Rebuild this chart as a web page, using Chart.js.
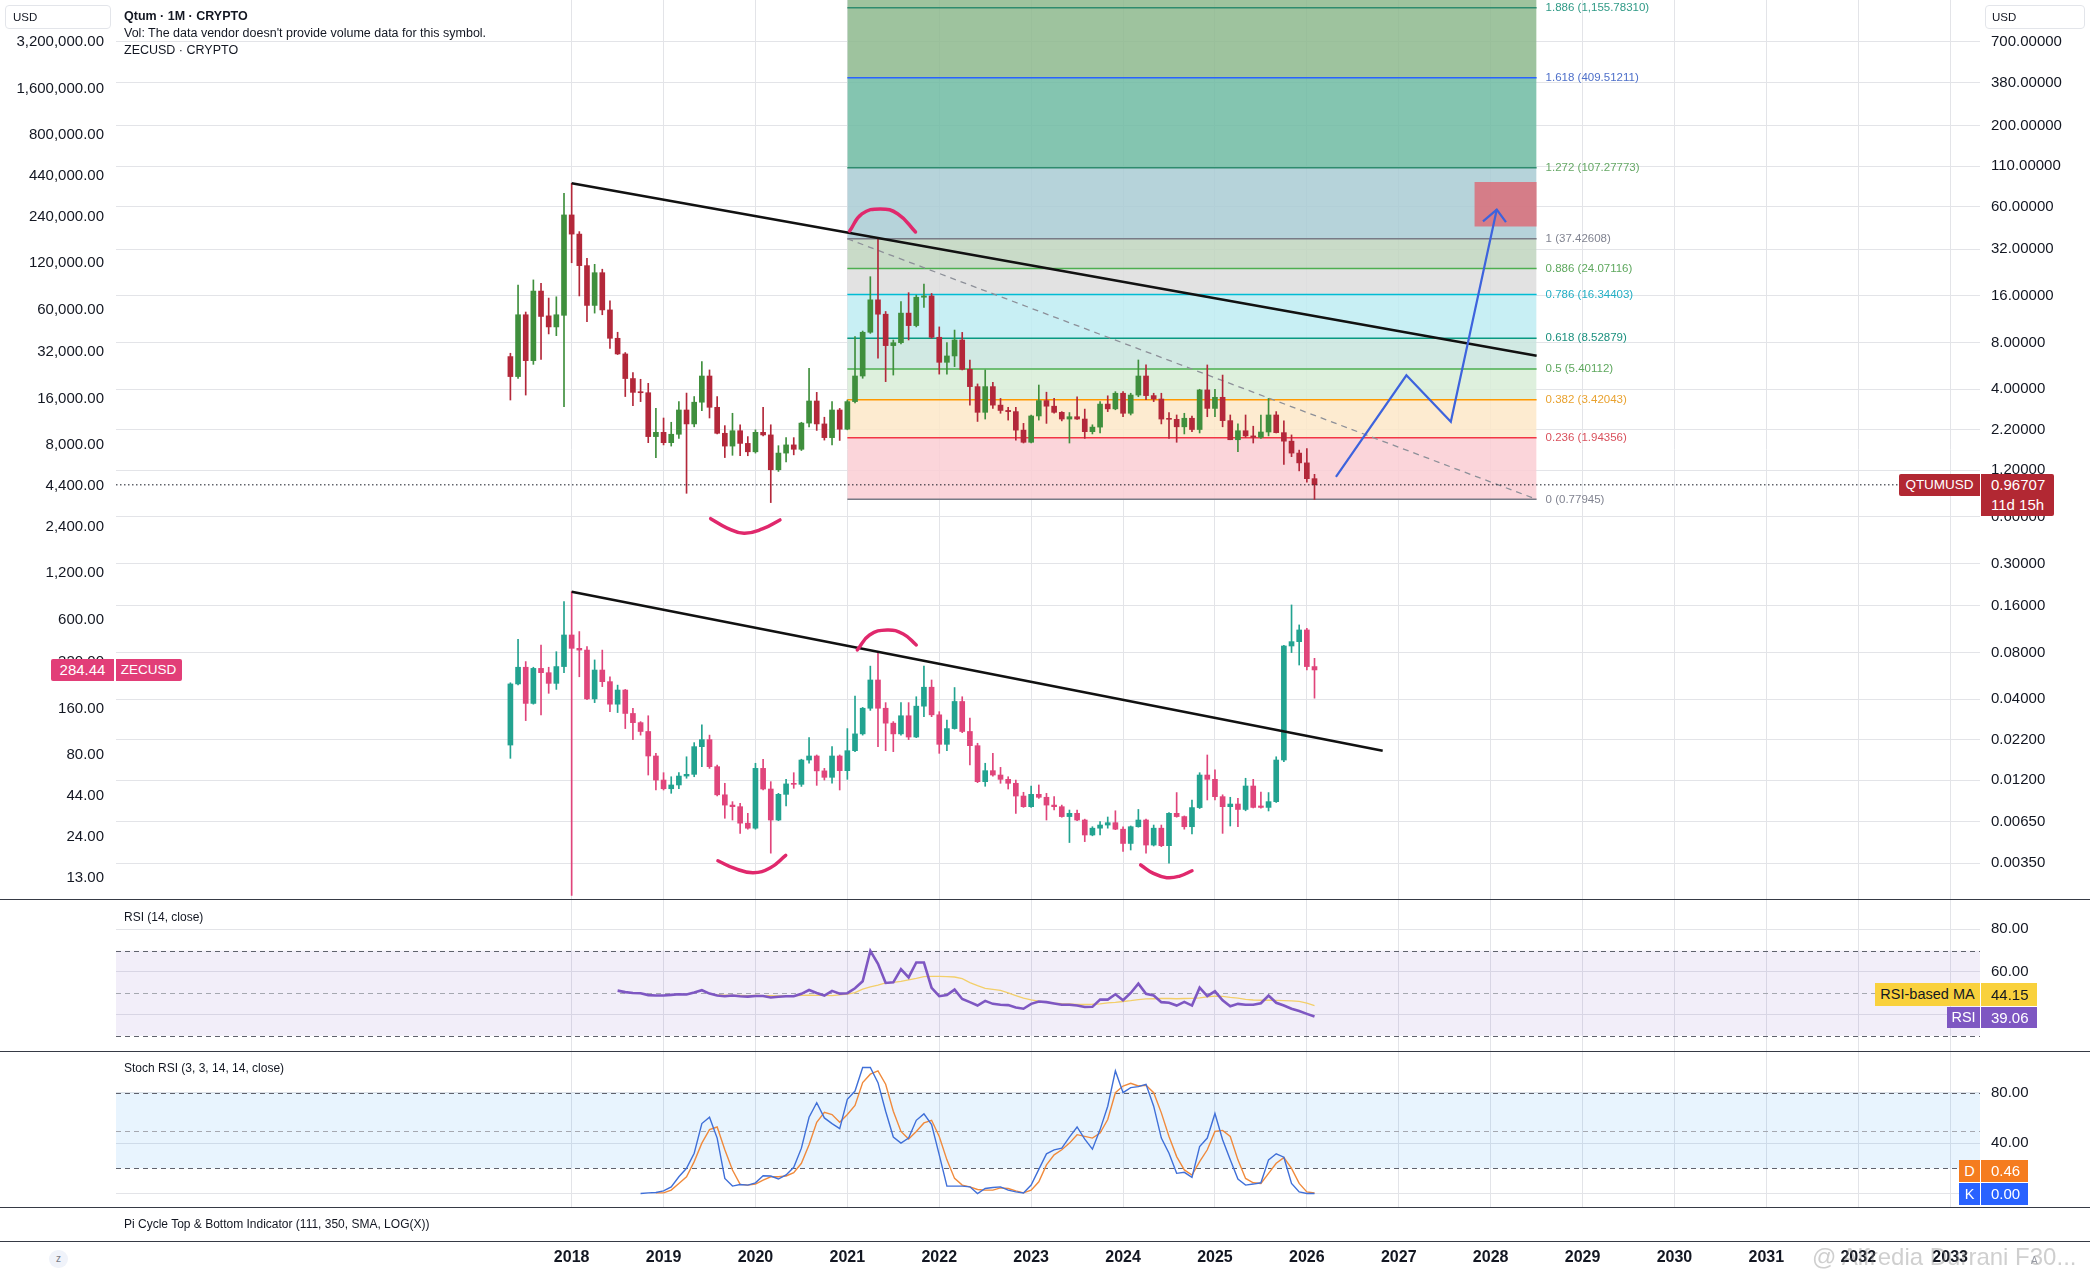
<!DOCTYPE html>
<html>
<head>
<meta charset="utf-8">
<script src="https://cdn.jsdelivr.net/npm/chart.js@4.4.1/dist/chart.umd.min.js"></script>
<style>
  html, body { margin: 0; padding: 0; background: #fff; }
  body { width: 2090px; height: 1277px; position: relative; overflow: hidden; font-family: "Liberation Sans", Arial, sans-serif; color: #131722; }
  canvas { position: absolute; left: 0; }
  .sep { position: absolute; left: 0; width: 2090px; height: 1.5px; background: #363a45; }
  .t { position: absolute; white-space: nowrap; }
  .box { position: absolute; white-space: nowrap; color: #fff; box-sizing: border-box; }
</style>
</head>
<body>
<canvas id="mainChart" width="2090" height="899" style="top:0"></canvas>
<canvas id="rsiChart" width="2090" height="152" style="top:899px"></canvas>
<canvas id="stochChart" width="2090" height="156" style="top:1051px"></canvas>
<canvas id="timeChart" width="2090" height="70" style="top:1207px"></canvas>

<div class="sep" style="top:898.5px"></div>
<div class="sep" style="top:1050.5px"></div>
<div class="sep" style="top:1206.5px"></div>
<div class="sep" style="top:1240.5px"></div>

<!-- legends / titles -->
<div class="t" style="left:124px;top:8px;font-size:12.5px;font-weight:bold;line-height:17px">Qtum · 1M · CRYPTO</div>
<div class="t" style="left:124px;top:25px;font-size:12.5px;line-height:17px">Vol: The data vendor doesn't provide volume data for this symbol.</div>
<div class="t" style="left:124px;top:42px;font-size:12.5px;line-height:17px">ZECUSD · CRYPTO</div>
<div class="t" style="left:124px;top:909px;font-size:12px;line-height:16px">RSI (14, close)</div>
<div class="t" style="left:124px;top:1060px;font-size:12px;line-height:16px">Stoch RSI (3, 3, 14, 14, close)</div>
<div class="t" style="left:124px;top:1216px;font-size:12px;line-height:16px">Pi Cycle Top &amp; Bottom Indicator (111, 350, SMA, LOG(X))</div>

<!-- currency boxes -->
<div class="t" style="left:5px;top:5px;width:106px;height:24px;border:1px solid #e3e5ea;border-radius:4px;box-sizing:border-box;font-size:11.5px;line-height:22px;padding-left:7px">USD</div>
<div class="t" style="left:1985px;top:5px;width:100px;height:24px;border:1px solid #e3e5ea;border-radius:4px;box-sizing:border-box;font-size:11.5px;line-height:22px;padding-left:6px">USD</div>

<!-- price labels -->
<div class="box" style="left:1899px;top:474px;width:81px;height:22px;background:#b22833;font-size:13.5px;line-height:22px;text-align:center;border-radius:2px 0 0 2px">QTUMUSD</div>
<div class="box" style="left:1981px;top:474px;width:73px;height:42px;background:#b22833;font-size:15px;line-height:20px;padding:1px 0 0 10px;border-radius:0 2px 2px 0">0.96707<br>11d 15h</div>
<div class="box" style="left:51px;top:659px;width:63px;height:22px;background:#e23e78;font-size:15px;line-height:22px;text-align:center;border-radius:2px 0 0 2px">284.44</div>
<div class="box" style="left:115.5px;top:659px;width:66px;height:22px;background:#e23e78;font-size:13.5px;line-height:22px;text-align:center;border-radius:0 2px 2px 0">ZECUSD</div>

<div class="box" style="left:1875px;top:983px;width:105px;height:23px;background:#f9d13c;color:#131722;font-size:14.5px;line-height:23px;text-align:center">RSI-based MA</div>
<div class="box" style="left:1981px;top:983px;width:56px;height:23px;background:#f9d13c;color:#131722;font-size:15px;line-height:23px;padding-left:10px">44.15</div>
<div class="box" style="left:1947px;top:1007px;width:33px;height:21px;background:#7e57c2;font-size:14.5px;line-height:21px;text-align:center">RSI</div>
<div class="box" style="left:1981px;top:1007px;width:56px;height:21px;background:#7e57c2;font-size:15px;line-height:21px;padding-left:10px">39.06</div>

<div class="box" style="left:1959px;top:1160px;width:21px;height:22px;background:#f57c1f;font-size:14.5px;line-height:22px;text-align:center">D</div>
<div class="box" style="left:1981px;top:1160px;width:47px;height:22px;background:#f57c1f;font-size:15px;line-height:22px;padding-left:10px">0.46</div>
<div class="box" style="left:1959px;top:1183px;width:21px;height:22px;background:#2962ff;font-size:14.5px;line-height:22px;text-align:center">K</div>
<div class="box" style="left:1981px;top:1183px;width:47px;height:22px;background:#2962ff;font-size:15px;line-height:22px;padding-left:10px">0.00</div>

<div class="t" style="left:49px;top:1250px;width:19px;height:18px;background:#f0f3fa;border-radius:9px;color:#787b86;font-size:10px;line-height:18px;text-align:center">z</div>
<div class="t" style="left:1812px;top:1242px;color:rgba(130,130,130,0.38);font-size:24px;line-height:30px">@ Alfredia Durrani F30...</div>
<div class="t" style="left:2031px;top:1254px;color:#9598a1;font-size:10px;line-height:14px">A</div>

<script>
// months shown (monthly candles)
const months = [
  '2017-05','2017-06','2017-07','2017-08','2017-09','2017-10','2017-11','2017-12',
  '2018-01','2018-02','2018-03','2018-04','2018-05','2018-06','2018-07','2018-08','2018-09','2018-10','2018-11','2018-12',
  '2019-01','2019-02','2019-03','2019-04','2019-05','2019-06','2019-07','2019-08','2019-09','2019-10','2019-11','2019-12',
  '2020-01','2020-02','2020-03','2020-04','2020-05','2020-06','2020-07','2020-08','2020-09','2020-10','2020-11','2020-12',
  '2021-01','2021-02','2021-03','2021-04','2021-05','2021-06','2021-07','2021-08','2021-09','2021-10','2021-11','2021-12',
  '2022-01','2022-02','2022-03','2022-04','2022-05','2022-06','2022-07','2022-08','2022-09','2022-10','2022-11','2022-12',
  '2023-01','2023-02','2023-03','2023-04','2023-05','2023-06','2023-07','2023-08','2023-09','2023-10','2023-11','2023-12',
  '2024-01','2024-02','2024-03','2024-04','2024-05','2024-06','2024-07','2024-08','2024-09','2024-10','2024-11','2024-12',
  '2025-01','2025-02','2025-03','2025-04','2025-05','2025-06','2025-07','2025-08','2025-09','2025-10','2025-11','2025-12',
  '2026-01','2026-02'
];

// QTUMUSD (right scale)
const qtumOpen = [
  6.50, 4.83, 12.1, 6.12, 17.2, 11.9, 10.1, 12.0,
  53.3, 40.1, 25.1, 13.9, 22.6, 13.0, 8.53, 6.76, 4.69, 3.82, 3.80, 1.98,
  2.11, 1.81, 2.05, 2.94, 2.39, 3.30, 4.87, 3.06, 2.08, 1.72, 2.16, 1.79,
  1.58, 2.11, 2.03, 1.21, 1.55, 1.75, 1.64, 2.42, 3.36, 2.39, 1.95, 2.94,
  2.21, 3.33, 4.87, 9.33, 15.1, 12.2, 7.65, 7.99, 12.4, 10.3, 15.7, 16.0,
  8.66, 5.97, 6.56, 8.32, 5.38, 4.16, 2.84, 4.16, 3.16, 2.92, 2.87, 2.18,
  1.82, 2.69, 3.38, 3.11, 2.84, 2.57, 2.66, 2.57, 2.13, 2.28, 3.21, 2.99,
  3.77, 2.80, 3.67, 4.87, 3.64, 3.46, 2.57, 2.56, 2.29, 2.60, 2.20, 3.96,
  3.01, 3.55, 2.51, 1.89, 2.16, 2.00, 1.96, 2.12, 2.73, 2.10, 1.85, 1.55,
  1.34, 1.06
];
const qtumHigh = [
  6.83, 18.8, 12.6, 20.3, 19.3, 15.5, 15.8, 73.5,
  85.3, 41.6, 28.0, 25.6, 23.8, 14.9, 9.33, 6.90, 5.12, 4.64, 4.37, 3.01,
  2.61, 2.45, 3.33, 3.78, 3.59, 6.03, 5.33, 3.59, 2.33, 2.80, 2.36, 1.98,
  2.19, 3.06, 2.36, 1.73, 1.95, 1.95, 2.45, 5.46, 3.82, 2.64, 3.33, 3.01,
  3.41, 8.74, 9.50, 21.3, 37.7, 12.7, 8.32, 14.7, 16.8, 16.2, 19.1, 16.6,
  10.1, 8.00, 9.64, 9.31, 6.18, 4.33, 5.33, 4.44, 3.49, 3.06, 3.06, 2.41,
  2.73, 4.26, 3.83, 3.49, 2.87, 2.83, 3.58, 2.98, 2.36, 3.33, 3.63, 3.86,
  3.86, 3.77, 6.18, 5.74, 3.77, 3.77, 2.83, 2.73, 2.80, 2.69, 4.00, 5.74,
  4.00, 4.94, 2.73, 2.39, 2.73, 2.31, 2.73, 3.49, 2.87, 2.50, 2.03, 1.62,
  1.66, 1.13
];
const qtumLow = [
  3.41, 4.70, 3.67, 5.79, 6.24, 9.10, 8.87, 3.09,
  26.2, 16.0, 10.9, 12.4, 12.1, 7.35, 6.70, 3.59, 3.14, 3.33, 1.81, 1.45,
  1.75, 1.72, 1.93, 0.853, 2.29, 2.91, 2.61, 2.06, 1.45, 1.50, 1.49, 1.49,
  1.55, 2.00, 0.743, 1.18, 1.36, 1.51, 1.61, 2.29, 2.17, 1.88, 1.75, 1.87,
  2.19, 3.26, 4.71, 9.18, 6.34, 4.48, 4.94, 7.84, 8.32, 10.1, 13.5, 8.53,
  5.01, 5.01, 5.60, 5.33, 3.16, 2.48, 2.57, 3.01, 2.80, 2.53, 1.88, 1.80,
  1.80, 2.53, 2.41, 2.80, 2.50, 1.80, 2.56, 1.93, 2.06, 2.09, 2.87, 2.95,
  2.66, 2.73, 3.58, 3.43, 3.33, 2.39, 1.93, 1.82, 2.06, 2.13, 2.09, 2.66,
  2.66, 2.29, 1.89, 1.58, 1.96, 1.80, 1.93, 2.00, 2.09, 1.31, 1.47, 1.19,
  1.005, 0.779
];
const qtumClose = [
  4.83, 12.1, 6.12, 17.2, 11.8, 10.1, 12.1, 53.3,
  40.1, 25.1, 13.9, 22.6, 13.0, 8.53, 6.76, 4.69, 3.82, 3.80, 1.98, 2.11,
  1.81, 2.05, 2.94, 2.39, 3.30, 4.87, 3.06, 2.08, 1.72, 2.16, 1.79, 1.58,
  2.11, 2.03, 1.21, 1.55, 1.75, 1.64, 2.42, 3.36, 2.39, 1.95, 2.94, 2.21,
  3.33, 4.87, 9.33, 15.1, 12.2, 7.65, 7.99, 12.4, 10.3, 15.7, 16.0, 8.66,
  5.97, 6.56, 8.32, 5.38, 4.16, 2.84, 4.16, 3.16, 2.92, 2.87, 2.18, 1.82,
  2.69, 3.38, 3.11, 2.84, 2.57, 2.66, 2.57, 2.13, 2.28, 3.21, 2.99, 3.77,
  2.80, 3.67, 4.87, 3.64, 3.46, 2.57, 2.56, 2.29, 2.60, 2.20, 3.96, 3.01,
  3.55, 2.51, 1.89, 2.16, 2.00, 1.96, 2.12, 2.73, 2.10, 1.85, 1.55, 1.34,
  1.06, 0.96707
];

// ZECUSD (left scale)
const zecOpen = [
  93.2, 231, 296, 173, 291, 273, 233, 299,
  478, 392, 382, 185, 284, 239, 171, 211, 149, 130, 114, 79.2,
  55.4, 48.7, 51.5, 58.8, 60.3, 91.0, 101, 67.6, 44.5, 38.2, 37.3, 29.2,
  27.1, 65.9, 48.5, 30.6, 44.8, 52.3, 52.0, 74.6, 79.2, 63.5, 57.7, 79.2,
  63.7, 85.7, 110, 161, 245, 161, 129, 110, 144, 105, 166, 220,
  146, 94.2, 119, 178, 114, 92.3, 54.1, 63.7, 59.7, 56.0, 52.8, 43.7,
  37.3, 44.8, 42.9, 38.2, 37.3, 32.2, 33.8, 30.6, 24.5, 27.1, 28.4, 29.4,
  26.7, 21.6, 27.7, 30.6, 21.1, 27.1, 20.9, 33.8, 32.2, 27.7, 36.8, 59.7,
  56.0, 43.3, 37.3, 38.8, 35.8, 50.7, 37.7, 36.9, 40.2, 74.6, 406, 433,
  515, 299
];
const zecHigh = [
  235, 448, 322, 296, 412, 296, 373, 784,
  910, 503, 402, 330, 382, 257, 227, 213, 161, 132, 144, 82.4,
  61.8, 58.2, 61.8, 78.3, 96.6, 126, 108, 69.3, 52.8, 40.2, 39.2, 33.8,
  71.1, 75.4, 54.1, 45.5, 56.0, 61.8, 75.5, 104, 80.4, 65.9, 91.0, 80.4,
  119, 193, 163, 301, 373, 175, 132, 175, 175, 191, 301, 245,
  153, 135, 219, 191, 139, 95.7, 71.1, 82.4, 66.9, 58.2, 55.4, 46.2,
  50.7, 51.5, 45.5, 43.3, 38.2, 35.5, 35.5, 31.0, 27.7, 29.9, 32.0, 35.1,
  27.7, 28.0, 35.8, 31.0, 28.4, 28.4, 34.2, 46.0, 32.5, 41.2, 61.8, 80.4,
  64.4, 44.5, 42.9, 42.2, 56.9, 56.0, 46.4, 46.0, 78.3, 410, 747, 555,
  528, 338
];
const zecLow = [
  76.5, 228, 134, 171, 146, 201, 213, 273,
  10.0, 257, 183, 175, 222, 153, 151, 119, 101, 108, 59.7, 47.8,
  47.8, 45.5, 48.7, 56.9, 58.2, 67.6, 65.9, 43.7, 31.4, 30.6, 25.1, 26.7,
  26.7, 47.8, 18.7, 30.3, 37.7, 49.0, 50.4, 71.1, 51.2, 55.4, 52.8, 47.8,
  56.0, 84.5, 108, 156, 91.0, 85.7, 84.5, 108, 101, 104, 142, 142,
  82.4, 85.7, 118, 112, 69.3, 53.3, 50.5, 58.8, 52.8, 48.5, 33.8, 36.9,
  36.9, 42.2, 30.6, 35.5, 31.9, 21.9, 30.3, 22.2, 24.2, 24.5, 27.1, 26.5,
  19.2, 19.6, 27.5, 18.7, 20.8, 20.6, 16.1, 31.9, 26.7, 24.9, 36.3, 41.2,
  41.2, 25.1, 28.0, 27.7, 35.1, 36.6, 36.5, 35.0, 39.7, 72.8, 368, 306,
  284, 187
];
const zecClose = [
  231, 296, 173, 291, 273, 233, 299, 478,
  392, 382, 185, 284, 239, 171, 211, 149, 130, 114, 79.2, 55.4,
  48.7, 51.5, 58.8, 60.3, 91.0, 101, 67.6, 44.5, 38.2, 37.3, 29.2, 27.1,
  65.9, 48.5, 30.6, 44.8, 52.3, 52.0, 74.6, 79.2, 63.5, 57.7, 79.2, 63.7,
  85.7, 110, 161, 245, 161, 129, 110, 144, 105, 166, 220, 146,
  94.2, 119, 178, 114, 92.3, 54.1, 63.7, 59.7, 56.0, 52.8, 43.7, 37.3,
  44.8, 42.9, 38.2, 37.3, 32.2, 33.8, 30.6, 24.5, 27.1, 28.4, 29.4, 26.7,
  21.6, 27.7, 30.6, 21.1, 27.1, 20.9, 33.8, 32.2, 27.7, 36.8, 59.7, 56.0,
  43.3, 37.3, 38.8, 35.8, 50.7, 36.9, 36.9, 40.2, 74.6, 406, 433, 515,
  299, 284.44
];

// RSI (14) and its MA
const rsiStart = '2018-07';
const rsiValues = [
  51.2, 50.5, 50.1, 50.0, 49.1, 48.9, 48.9, 49.2, 49.5, 49.4,
  50.3, 51.4, 49.8, 48.9, 48.6, 48.9, 48.6, 48.4, 48.7, 48.7,
  48.0, 48.3, 48.6, 48.6, 49.7, 51.5, 50.1, 48.9, 51.1, 49.8,
  50.0, 52.3, 55.6, 69.9, 63.8, 54.8, 55.1, 61.3, 57.4, 64.4,
  64.4, 52.5, 48.6, 49.1, 51.7, 47.3, 45.8, 44.2, 46.4, 45.0,
  44.6, 44.4, 43.3, 42.7, 45.0, 46.1, 45.8, 45.2, 44.6, 44.6,
  44.2, 43.5, 43.6, 47.0, 47.0, 49.5, 46.7, 50.1, 54.5, 49.7,
  48.9, 45.8, 45.5, 44.2, 45.9, 44.2, 52.6, 48.6, 50.9, 46.7,
  43.9, 45.0, 44.6, 44.6, 45.3, 48.9, 45.5, 44.2, 42.7, 41.6,
  40.3, 39.06
];
const rsiMaStart = '2019-08';
const rsiMaValues = [
  49.2, 49.1, 49.0, 49.0, 48.9, 49.0, 48.9, 48.8, 48.7, 48.7,
  48.8, 49.0, 49.1, 49.0, 49.0, 48.9, 49.2, 49.6, 50.3, 51.9,
  53.0, 53.8, 54.8, 55.1, 55.6, 56.3, 57.0, 57.8, 57.9, 57.9,
  57.8, 57.6, 56.8, 55.0, 53.6, 52.3, 51.8, 51.3, 50.1, 48.9,
  47.7, 46.9, 46.3, 45.8, 45.3, 45.1, 45.0, 44.7, 44.7, 44.8,
  45.0, 45.5, 45.7, 46.1, 46.5, 47.0, 47.3, 47.4, 47.5, 47.5,
  47.4, 47.5, 47.6, 47.8, 48.3, 48.6, 48.5, 48.0, 47.7, 47.1,
  46.8, 46.7, 46.7, 46.6, 46.5, 46.4, 46.2, 45.3, 44.15
];

// Stoch RSI (3, 3, 14, 14)
const stochKStart = '2018-10';
const stochK = [
  0.0, 0.5, 0.8, 2.1, 5.3, 13.3, 20.0, 32.0, 55.5, 60.5,
  44.0, 12.0, 5.9, 7.2, 6.7, 8.5, 14.1, 13.9, 11.5, 14.7,
  20.8, 36.0, 60.5, 72.0, 60.0, 55.5, 51.5, 74.7, 81.3, 100,
  100, 88.0, 65.3, 44.8, 40.0, 44.0, 58.1, 63.2, 54.7, 30.7,
  5.9, 5.9, 5.9, 5.3, 0.0, 4.0, 4.8, 5.3, 2.7, 1.3,
  0.5, 6.7, 19.2, 31.5, 34.7, 36.0, 44.8, 52.8, 43.2, 35.2,
  50.7, 69.3, 97.3, 80.0, 84.0, 84.8, 86.7, 69.3, 44.0, 32.0,
  16.0, 16.8, 12.8, 37.3, 44.0, 63.5, 42.7, 26.7, 11.5, 6.7,
  7.5, 8.5, 26.7, 31.5, 28.8, 8.0, 1.3, 0.0, 0.0
];
const stochDStart = '2018-12';
const stochD = [
  0.5, 0.5, 2.7, 8.0, 13.3, 25.3, 40.0, 50.7, 52.8, 34.7,
  18.7, 7.2, 6.7, 7.5, 10.7, 13.3, 13.3, 13.9, 16.5, 24.0,
  38.7, 56.5, 64.5, 62.7, 56.5, 62.7, 69.9, 88.0, 94.7, 97.3,
  86.7, 65.3, 49.3, 43.2, 49.3, 56.0, 58.1, 45.3, 26.7, 12.0,
  6.7, 5.3, 3.2, 2.7, 2.7, 4.5, 4.0, 2.1, 0.5, 2.7,
  9.3, 22.7, 30.7, 34.7, 40.0, 46.7, 45.3, 44.0, 48.0, 58.7,
  80.0, 85.3, 87.5, 85.3, 85.9, 80.0, 64.0, 45.3, 29.3, 18.7,
  14.7, 25.3, 34.7, 49.3, 50.1, 45.3, 26.7, 12.0, 8.5, 8.0,
  16.0, 24.0, 28.5, 20.0, 8.0, 1.3, 0.46
];

// axis tick labels
const yearTicks = ['2018','2019','2020','2021','2022','2023','2024','2025','2026','2027','2028','2029','2030','2031','2032','2033'];
const qtumTicks = [700, 380, 200, 110, 60, 32, 16, 8, 4, 2.2, 1.2, 0.6, 0.3, 0.16, 0.08, 0.04, 0.022, 0.012, 0.0065, 0.0035];
const zecTicks = [3200000, 1600000, 800000, 440000, 240000, 120000, 60000, 32000, 16000, 8000, 4400, 2400, 1200, 600, 320, 160, 80, 44, 24, 13];
const rsiTicks = [80, 60, 40];
const stochTicks = [80, 40, 0];

// fib retracement / extension (drawn on QTUM)
const fibLevels = [0, 0.236, 0.382, 0.5, 0.618, 0.786, 0.886, 1, 1.272, 1.618, 1.886];
const fibPrices = [0.77945, 1.94356, 3.42043, 5.40112, 8.52879, 16.34403, 24.07116, 37.42608, 107.27773, 409.51211, 1155.78310];
const fibFrom = 36, fibTo = 126; // months after Jan 2018

// drawings: x = months after Jan 2018, y = price
const qtumTrend = [{ x: 0, y: 85.3 }, { x: 126, y: 6.58 }];
const zecTrend = [{ x: 0, y: 910 }, { x: 105.9, y: 85.7 }];
const fibDiagonal = [{ x: 36, y: 37.42608 }, { x: 126, y: 0.77945 }];
const projectionPath = [{ x: 99.8, y: 1.09 }, { x: 109.0, y: 4.92 }, { x: 114.8, y: 2.47 }, { x: 120.8, y: 57.7 }];
const projectionArrow = [{ x: 119.0, y: 48.4 }, { x: 120.8, y: 57.7 }, { x: 122.0, y: 47.9 }];
const targetZone = [{ x: 117.9, y: 44.9 }, { x: 117.9, y: 86.9 }, { x: 126, y: 86.9 }, { x: 126, y: 44.9 }, { x: 117.9, y: 44.9 }];
const qtumTopArc = [{ x: 36.3, y: 42.0 }, { x: 37.9, y: 54.1 }, { x: 40.3, y: 58.3 }, { x: 42.6, y: 54.1 }, { x: 44.9, y: 41.4 }];
const qtumBottomArc = [{ x: 18.15, y: 0.585 }, { x: 20.3, y: 0.509 }, { x: 22.5, y: 0.471 }, { x: 24.9, y: 0.502 }, { x: 27.2, y: 0.574 }];
const zecTopArc = [{ x: 37.3, y: 383 }, { x: 38.9, y: 478 }, { x: 41.2, y: 515 }, { x: 43.3, y: 485 }, { x: 45.0, y: 412 }];
const zecBottomArc1 = [{ x: 19.1, y: 16.7 }, { x: 21.3, y: 14.9 }, { x: 23.7, y: 14.0 }, { x: 25.9, y: 15.0 }, { x: 27.95, y: 18.1 }];
const zecBottomArc2 = [{ x: 74.3, y: 15.7 }, { x: 75.9, y: 13.9 }, { x: 77.7, y: 13.0 }, { x: 79.4, y: 13.3 }, { x: 81.0, y: 14.4 }];
const qtumLast = 0.96707;

// ---- styles ----
const FONT = '"Liberation Sans", Arial, sans-serif';
const gridColor = '#e3e4e8';
const xMin = -59.5, xMax = 183.9;
const fibLineColors = ['#787b86', '#f23645', '#ff9800', '#4caf50', '#089981', '#00bcd4', '#4caf50', '#787b86', '#2e8b6e', '#2962ff', '#2e8b6e'];
const fibTextColors = ['#808390', '#d9505c', '#e9a22f', '#5ea85e', '#1a907e', '#22aec4', '#5ea85e', '#808390', '#66a866', '#4d6fc9', '#2f9a86'];
const fibFills = [
  'rgba(250,206,211,0.85)', 'rgba(253,232,200,0.85)', 'rgba(216,237,215,0.85)', 'rgba(201,229,222,0.85)',
  'rgba(190,236,242,0.85)', 'rgba(221,221,221,0.85)', 'rgba(192,213,190,0.85)', 'rgba(169,203,211,0.85)',
  'rgba(111,187,162,0.85)', 'rgba(141,184,141,0.85)'
];

Chart.defaults.font.family = FONT;
Chart.defaults.color = '#131722';
Chart.defaults.animation = false;
Chart.defaults.events = [];
Chart.defaults.plugins.legend.display = false;
Chart.defaults.plugins.tooltip.enabled = false;
Chart.defaults.elements.point.radius = 0;

function monthIndex(s) {
  const p = s.split('-').map(Number);
  return (p[0] - 2018) * 12 + (p[1] - 1);
}
function series(start, values) {
  const m0 = monthIndex(start);
  return values.map((v, i) => ({ x: m0 + i, y: v }));
}
function fmt(v, d) {
  return Number(v).toLocaleString('en-US', { minimumFractionDigits: d, maximumFractionDigits: d });
}

function yearAxis(showLabels) {
  return {
    type: 'linear', min: xMin, max: xMax, offset: false,
    grid: { display: !showLabels, color: gridColor, drawTicks: false, offset: false },
    border: { display: false },
    ticks: {
      display: showLabels, autoSkip: false, maxRotation: 0, padding: 7,
      font: { size: 16, weight: 'bold' }, color: '#131722',
      callback: (v, i) => yearTicks[i]
    },
    afterBuildTicks: s => { s.ticks = yearTicks.map((y, i) => ({ value: i * 12 })); },
    afterFit: s => { s.height = showLabels ? 36 : 0; s.paddingLeft = 0; s.paddingRight = 0; }
  };
}

function candles(open, high, low, close, up, down, axis) {
  const col = close.map((c, i) => (c >= open[i] ? up : down));
  return [
    {
      type: 'bar', yAxisID: axis, order: 20, grouped: false, barThickness: 1, backgroundColor: col,
      data: months.map((m, i) => ({ x: monthIndex(m), y: [low[i], high[i]] }))
    },
    {
      type: 'bar', yAxisID: axis, order: 19, grouped: false, barThickness: 5, minBarLength: 1, backgroundColor: col,
      data: months.map((m, i) => ({ x: monthIndex(m), y: [open[i], close[i]] }))
    }
  ];
}

function drawLine(data, axis, color, width, extra) {
  return Object.assign({
    type: 'line', yAxisID: axis, data: data, borderColor: color, borderWidth: width,
    fill: false, tension: 0, pointRadius: 0, order: 5
  }, extra || {});
}

// fib fills (consecutive, fill to previous) then fib lines
const fibDatasets = [];
fibPrices.forEach((p, i) => {
  fibDatasets.push({
    type: 'line', yAxisID: 'yR', order: 60, borderWidth: 0, pointRadius: 0,
    data: [{ x: fibFrom, y: p }, { x: fibTo, y: p }],
    fill: i === 0 ? false : '-1', backgroundColor: i === 0 ? 'transparent' : fibFills[i - 1]
  });
});
fibDatasets.push({
  type: 'line', yAxisID: 'yR', order: 60, borderWidth: 0, pointRadius: 0,
  data: [{ x: fibFrom, y: fibPrices[fibPrices.length - 1] }, { x: fibTo, y: fibPrices[fibPrices.length - 1] }],
  fill: 'end', backgroundColor: fibFills[fibFills.length - 1]
});
fibPrices.forEach((p, i) => {
  fibDatasets.push(drawLine([{ x: fibFrom, y: p }, { x: fibTo, y: p }], 'yR', fibLineColors[i], 1.5, { order: 40 }));
});

const pink = '#e0286c';
const arcStyle = { tension: 0.45, borderCapStyle: 'round', order: 4 };

const fibLabelPlugin = {
  id: 'fibLabels',
  afterDatasetsDraw(chart) {
    const ctx = chart.ctx, yR = chart.scales.yR, x = chart.scales.x;
    const px = x.getPixelForValue(fibTo) + 9;
    ctx.save();
    ctx.font = '11.5px ' + FONT;
    ctx.textBaseline = 'middle';
    ctx.textAlign = 'left';
    fibLevels.forEach((lv, i) => {
      ctx.fillStyle = fibTextColors[i];
      ctx.fillText(lv + ' (' + fmt(fibPrices[i], 5) + ')', px, yR.getPixelForValue(fibPrices[i]));
    });
    ctx.restore();
  }
};

new Chart(document.getElementById('mainChart'), {
  type: 'bar',
  data: {
    datasets: [].concat(
      fibDatasets,
      candles(qtumOpen, qtumHigh, qtumLow, qtumClose, '#3f8f3d', '#b3283a', 'yR'),
      candles(zecOpen, zecHigh, zecLow, zecClose, '#22a390', '#e0457b', 'yL'),
      [
        drawLine(fibDiagonal, 'yR', '#8d9099', 1.3, { borderDash: [6, 5], order: 30 }),
        drawLine(targetZone, 'yR', 'transparent', 0, { fill: 'shape', backgroundColor: 'rgba(230,80,92,0.65)', order: 8 }),
        drawLine(qtumTrend, 'yR', '#111111', 2.6),
        drawLine(zecTrend, 'yL', '#111111', 2.6),
        drawLine(qtumTopArc, 'yR', pink, 3.5, arcStyle),
        drawLine(qtumBottomArc, 'yR', pink, 3.5, arcStyle),
        drawLine(zecTopArc, 'yL', pink, 3.5, arcStyle),
        drawLine(zecBottomArc1, 'yL', pink, 3.5, arcStyle),
        drawLine(zecBottomArc2, 'yL', pink, 3.5, arcStyle),
        drawLine(projectionPath, 'yR', '#3d63dd', 2.2, { order: 3, borderJoinStyle: 'miter' }),
        drawLine(projectionArrow, 'yR', '#3d63dd', 2.2, { order: 3 }),
        drawLine([{ x: xMin, y: qtumLast }, { x: xMax, y: qtumLast }], 'yR', '#131722', 1, { borderDash: [1.5, 2.5], order: 2 })
      ]
    )
  },
  options: {
    responsive: false, devicePixelRatio: 1,
    layout: { padding: 0 },
    scales: {
      x: yearAxis(false),
      yR: {
        type: 'logarithmic', position: 'right', min: 0.002058, max: 1298.5,
        grid: { color: gridColor, drawTicks: false }, border: { display: false },
        ticks: { autoSkip: false, padding: 11, font: { size: 15 }, color: '#131722', callback: v => fmt(v, 5) },
        afterBuildTicks: s => { s.ticks = qtumTicks.map(v => ({ value: v })); },
        afterFit: s => { s.width = 110; s.paddingTop = 0; s.paddingBottom = 0; }
      },
      yL: {
        type: 'logarithmic', position: 'left', min: 9.465, max: 5973000,
        grid: { display: false, drawTicks: false }, border: { display: false },
        ticks: { autoSkip: false, padding: 12, font: { size: 15 }, color: '#131722', callback: v => fmt(v, 2) },
        afterBuildTicks: s => { s.ticks = zecTicks.map(v => ({ value: v })); },
        afterFit: s => { s.width = 116; s.paddingTop = 0; s.paddingBottom = 0; }
      }
    }
  },
  plugins: [fibLabelPlugin]
});

function bandPlugin(lo, mid, hi, fillColor) {
  return {
    id: 'band',
    beforeDatasetsDraw(chart) {
      const ctx = chart.ctx, a = chart.chartArea, y = chart.scales.y;
      const yHi = y.getPixelForValue(hi), yLo = y.getPixelForValue(lo);
      ctx.save();
      ctx.fillStyle = fillColor;
      ctx.fillRect(a.left, yHi, a.right - a.left, yLo - yHi);
      ctx.lineWidth = 1;
      ctx.setLineDash([5, 4]);
      [[hi, '#5f626d'], [mid, '#a5a8b0'], [lo, '#5f626d']].forEach(d => {
        const py = Math.round(y.getPixelForValue(d[0])) + 0.5;
        ctx.strokeStyle = d[1];
        ctx.beginPath(); ctx.moveTo(a.left, py); ctx.lineTo(a.right, py); ctx.stroke();
      });
      ctx.restore();
    }
  };
}

function oscAxis(min, max, ticks) {
  return {
    type: 'linear', position: 'right', min: min, max: max,
    grid: { color: gridColor, drawTicks: false }, border: { display: false },
    ticks: { autoSkip: false, padding: 11, font: { size: 15 }, color: '#131722', callback: v => v.toFixed(2) },
    afterBuildTicks: s => { s.ticks = ticks.map(v => ({ value: v })); },
    afterFit: s => { s.width = 110; s.paddingTop = 0; s.paddingBottom = 0; }
  };
}

new Chart(document.getElementById('rsiChart'), {
  type: 'line',
  data: {
    datasets: [
      { data: series(rsiStart, rsiValues), borderColor: '#7e57c2', borderWidth: 2.6, tension: 0, order: 1 },
      { data: series(rsiMaStart, rsiMaValues), borderColor: '#f3cf6a', borderWidth: 1.3, tension: 0, order: 2 }
    ]
  },
  options: {
    responsive: false, devicePixelRatio: 1,
    layout: { padding: { left: 116, right: 0, top: 0, bottom: 0 } },
    scales: { x: yearAxis(false), y: oscAxis(22.86, 94.23, rsiTicks) }
  },
  plugins: [bandPlugin(30, 50, 70, 'rgba(126,87,194,0.1)')]
});

new Chart(document.getElementById('stochChart'), {
  type: 'line',
  data: {
    datasets: [
      { data: series(stochKStart, stochK), borderColor: '#3f6fd8', borderWidth: 1.4, tension: 0, order: 1 },
      { data: series(stochDStart, stochD), borderColor: '#f08a3c', borderWidth: 1.4, tension: 0, order: 2 }
    ]
  },
  options: {
    responsive: false, devicePixelRatio: 1,
    layout: { padding: { left: 116, right: 0, top: 0, bottom: 0 } },
    scales: { x: yearAxis(false), y: oscAxis(-10.7, 113.1, stochTicks) }
  },
  plugins: [bandPlugin(20, 50, 80, 'rgba(33,150,243,0.1)')]
});

new Chart(document.getElementById('timeChart'), {
  type: 'line',
  data: { datasets: [] },
  options: {
    responsive: false, devicePixelRatio: 1,
    layout: { padding: { left: 116, right: 110, top: 0, bottom: 0 } },
    scales: {
      x: yearAxis(true),
      y: { display: false, min: 0, max: 1 }
    }
  }
});
</script>
</body>
</html>
